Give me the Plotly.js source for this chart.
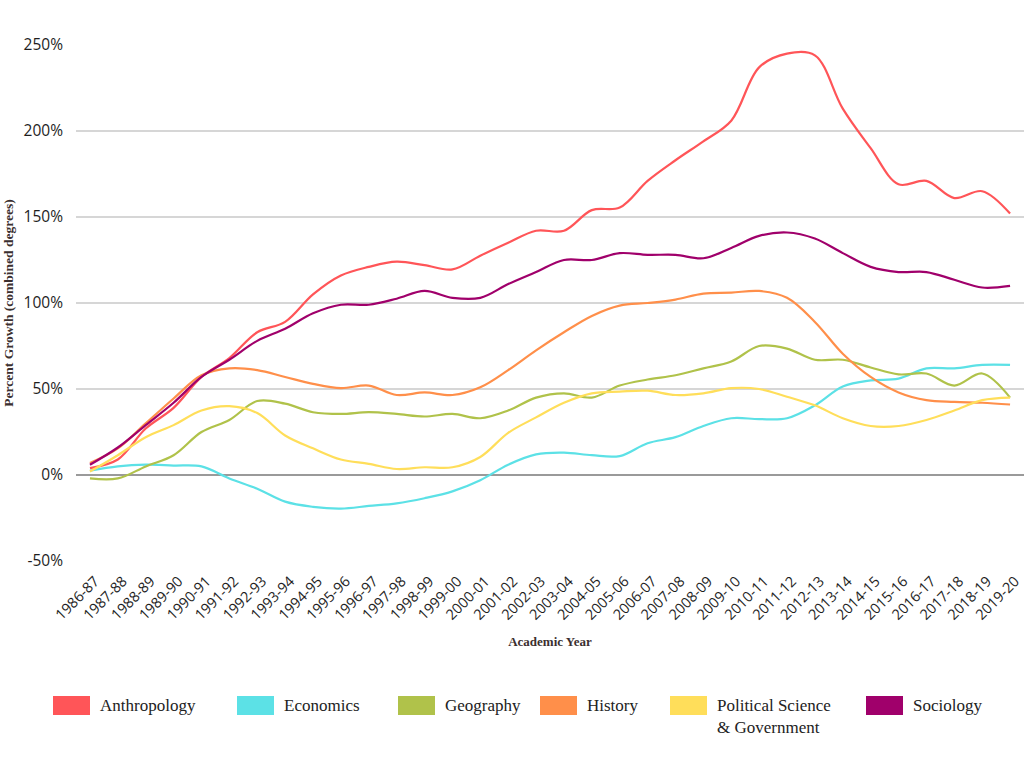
<!DOCTYPE html>
<html>
<head>
<meta charset="utf-8">
<script src="https://cdn.plot.ly/plotly-3.0.1.min.js"></script>
<style>
  html, body { margin: 0; padding: 0; background: #fff; }
  #chart { width: 1024px; height: 774px; }
</style>
</head>
<body>
<div id="chart"></div>
<script>
// academic years on the x axis
const years = ["1986-87","1987-88","1988-89","1989-90","1990-91","1991-92","1992-93","1993-94",
  "1994-95","1995-96","1996-97","1997-98","1998-99","1999-00","2000-01","2001-02","2002-03",
  "2003-04","2004-05","2005-06","2006-07","2007-08","2008-09","2009-10","2010-11","2011-12",
  "2012-13","2013-14","2014-15","2015-16","2016-17","2017-18","2018-19","2019-20"];

// percent growth
const anthropology = [4, 9, 27, 39, 57, 68, 83, 89, 105, 116, 121, 124, 122, 119.5, 127.5, 135, 142, 142,
  154, 155.5, 171, 183, 194, 206, 237, 245, 244, 213, 190, 169, 171, 161, 165, 152];
const economics = [2.5, 5, 6, 5.5, 5, -2, -8, -15.5, -18.5, -19.5, -18, -16.5, -13.5, -9.5, -3, 6, 12, 13,
  11.5, 11, 18.5, 22, 28.5, 33, 32.5, 33, 40.5, 51.5, 55, 56, 62, 62, 64, 64];
const geography = [-2, -2, 5, 11.5, 25, 32, 43, 41.5, 36.5, 35.5, 36.5, 35.5, 34, 35.5, 33, 37.5, 45, 47.5,
  45, 52, 55.5, 58, 62, 66, 75, 73.5, 67, 67, 62.5, 58.5, 59, 52, 59, 45];
const history = [7, 15.5, 30, 44.5, 58, 62, 61, 57, 53, 50.5, 52, 46.5, 48, 46.5, 51, 61, 72.5, 83,
  92.5, 98.5, 100, 102, 105.5, 106, 107, 103, 89, 70.5, 57, 48, 43.5, 42.5, 42, 41];
const polisci = [2, 11.5, 22, 29, 37.5, 40, 36, 23, 15.5, 9, 6.5, 3.5, 4.5, 4.5, 10.5, 24.5, 33.5, 42,
  47.5, 48.5, 49, 46.5, 47.5, 50.5, 50, 45.5, 40.5, 33, 28.5, 28.5, 32, 37.5, 43.5, 45];
const sociology = [6, 16, 29, 42, 57, 67, 78, 85, 94, 99, 99, 102.5, 107, 103, 103, 111, 118, 125,
  125, 129, 128, 128, 126, 132, 139, 141, 137.5, 129, 121, 118, 118, 113.5, 109, 110];

const seriesNames = ["Anthropology", "Economics", "Geography", "History",
  "Political Science<br>& Government", "Sociology"];
const seriesValues = [anthropology, economics, geography, history, polisci, sociology];
const seriesColors = ["#ff5558", "#5ce1e6", "#b0c24a", "#ff8f4a", "#ffde5a", "#a0006b"];

// y ticks (hyphen minus as in the original)
const yTickVals = [-50, 0, 50, 100, 150, 200, 250];
const yTickText = ["-50%", "0%", "50%", "100%", "150%", "200%", "250%"];

// plot box in pixels, used to place the hand-made legend
const plotL = 76, plotR = 1024, plotT = 45, plotB = 561;
const legendLeft = [53, 237, 398, 540, 670, 866];
const legendTop = 696, swatchW = 37, swatchH = 19;

const px2x = p => (p - plotL) / (plotR - plotL);
const px2y = p => (plotB - p) / (plotB - plotT);

const traces = seriesValues.map((vals, i) => ({
  x: years,
  y: vals,
  type: 'scatter',
  mode: 'lines',
  name: seriesNames[i],
  line: { color: seriesColors[i], width: 2.2, shape: 'spline', smoothing: 1 },
  hoverinfo: 'x+y+name'
}));

const shapes = [];
const annotations = [];
seriesNames.forEach((nm, i) => {
  shapes.push({
    type: 'rect', xref: 'paper', yref: 'paper',
    x0: px2x(legendLeft[i]), x1: px2x(legendLeft[i] + swatchW),
    y0: px2y(legendTop), y1: px2y(legendTop + swatchH),
    fillcolor: seriesColors[i], line: { width: 0 }
  });
  annotations.push({
    xref: 'paper', yref: 'paper',
    x: px2x(legendLeft[i] + swatchW + 8), y: px2y(legendTop - 2),
    xanchor: 'left', yanchor: 'top', align: 'left',
    text: nm, showarrow: false,
    font: { family: 'Liberation Serif, serif', size: 17, color: '#222' }
  });
});

const layout = {
  width: 1024,
  height: 774,
  margin: { l: plotL, r: 1024 - plotR, t: plotT, b: 774 - plotB, pad: 0 },
  paper_bgcolor: '#fff',
  plot_bgcolor: '#fff',
  showlegend: false,
  font: { family: 'Open Sans, sans-serif', color: '#222' },
  xaxis: {
    type: 'category',
    range: [-0.5, years.length - 0.5],
    showgrid: false,
    zeroline: false,
    showline: false,
    tickangle: -45,
    ticklabelstandoff: 8,
    ticklabelshift: 5,
    tickfont: { size: 14.5, color: '#1e1e1e' },
    automargin: false,
    title: {
      text: 'Academic Year',
      standoff: 14,
      font: { family: 'Liberation Serif, serif', size: 13, color: '#3b2f2f', weight: 'bold' }
    }
  },
  yaxis: {
    range: [-50, 250],
    tickvals: yTickVals,
    ticktext: yTickText,
    showgrid: true,
    gridcolor: '#d6d6d6',
    gridwidth: 1.5,
    zeroline: true,
    zerolinecolor: '#9a9a9a',
    zerolinewidth: 1.5,
    showline: false,
    ticklabelstandoff: 12,
    tickfont: { size: 15.5, color: '#1e1e1e' },
    automargin: false,
    title: {
      text: 'Percent Growth (combined degrees)',
      standoff: 6,
      font: { family: 'Liberation Serif, serif', size: 13.5, color: '#3b2f2f', weight: 'bold' }
    }
  },
  shapes: shapes,
  annotations: annotations
};

Plotly.newPlot('chart', traces, layout, { displayModeBar: false, staticPlot: true });
</script>
</body>
</html>
